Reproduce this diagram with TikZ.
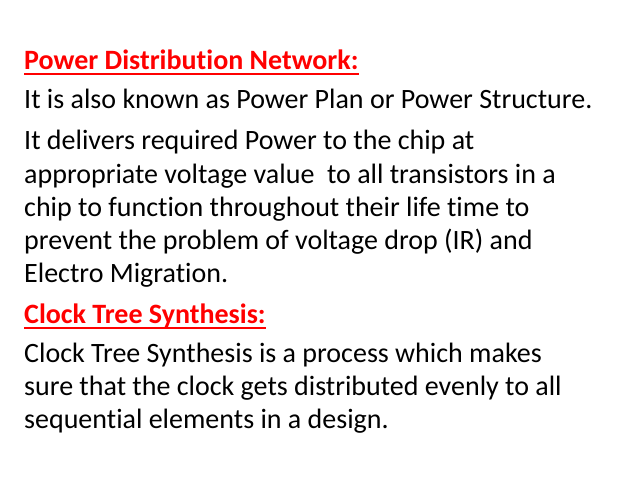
\documentclass[tikz,border=0pt]{standalone}
\usepackage{fontspec}
\setmainfont[Ligatures=NoCommon]{Carlito}
\definecolor{hred}{RGB}{255,0,0}
\begin{document}
\begin{tikzpicture}[x=1pt,y=-1pt,
  txt/.style={anchor=base west,inner sep=0pt,font=\fontsize{28}{32}\selectfont},
  head/.style={txt,text=hred,font=\fontsize{28}{32}\selectfont\bfseries},
  uline/.style={draw=hred,line width=1.6pt}]
\useasboundingbox (0,0) rectangle (638,478);
\node[head] (h1) at (24,70) {Power Distribution Network:};
\draw[uline] ([yshift=-4pt]h1.base west) -- ([yshift=-4pt]h1.base east);
\node[txt] (l1) at (24,109) {It is also known as Power Plan or Power Structure.};
\node[txt] (l2) at (24,150) {It delivers required Power to the chip at};
\node[txt] (l3) at (24,184) {appropriate voltage value\ \ to all transistors in a};
\node[txt] (l4) at (24,217) {chip to function throughout their life time to};
\node[txt] (l5) at (24,250) {prevent the problem of voltage drop (IR) and};
\node[txt] (l6) at (24,283) {Electro Migration.};
\node[head] (h2) at (24,324) {Clock Tree Synthesis:};
\draw[uline] ([yshift=-4pt]h2.base west) -- ([yshift=-4pt]h2.base east);
\node[txt] (m1) at (24,363) {Clock Tree Synthesis is a process which makes};
\node[txt] (m2) at (24,396) {sure that the clock gets distributed evenly to all};
\node[txt] (m3) at (24,429) {sequential elements in a design.};
\end{tikzpicture}
\end{document}
